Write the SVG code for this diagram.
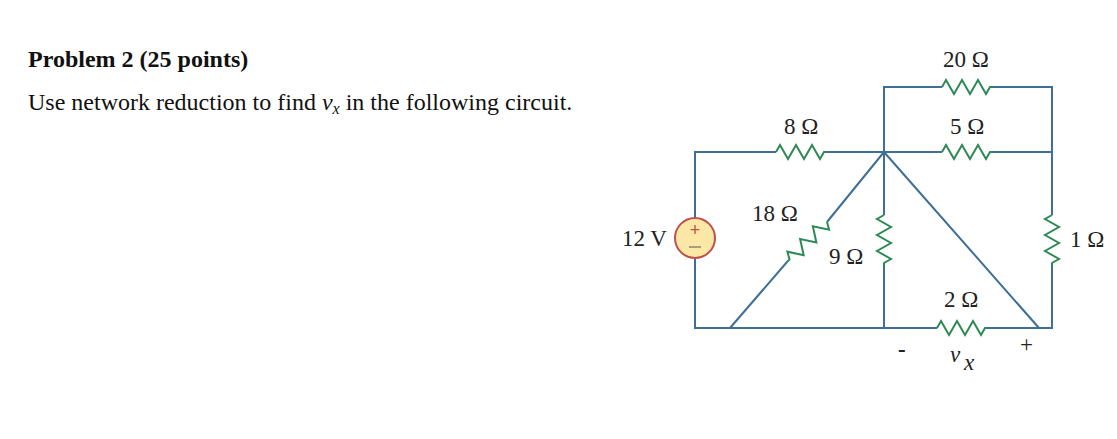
<svg xmlns="http://www.w3.org/2000/svg" width="1117" height="439" viewBox="0 0 1117 439">
<style>
.w{fill:none;stroke:#3f6f96;stroke-width:2}
.r{fill:none;stroke:#2e8a55;stroke-width:2}
.t{font-family:"Liberation Serif",serif;font-size:23px;fill:#222}
.h{font-family:"Liberation Serif",serif;font-size:24px;fill:#111}
</style>
<rect width="1117" height="439" fill="#fff"/>
<text class="h" x="28" y="67" font-weight="bold">Problem 2 (25 points)</text>
<text class="h" x="28" y="110">Use network reduction to find <tspan font-style="italic">v</tspan><tspan font-style="italic" font-size="16" dy="4">x</tspan><tspan dy="-4"> in the following circuit.</tspan></text>
<g id="connectors">
<path class="w" d="M695 218V152H776M827 152H942M993 152H1052V215M884 152V87H942M993 87H1052V152M1052 267V328H987M937 328H695V258"/>
<path class="w" d="M884 152V215M884 267V328M884 152L827 222M787 262L730 328M884 152L1039 328"/>
</g>
<g id="r8"><polyline class="r" points="776,152 780,145 788,159 796,145 804,159 812,145 820,159 824,152 827,152"/><text class="t" x="784" y="134">8 Ω</text></g>
<g id="r5"><polyline class="r" points="942,152 946,145 954,159 962,145 970,159 978,145 986,159 990,152 993,152"/><text class="t" x="950" y="134">5 Ω</text></g>
<g id="r20"><polyline class="r" points="942,87 946,80 954,94 962,80 970,94 978,80 986,94 990,87 993,87"/><text class="t" x="943" y="67">20 Ω</text></g>
<g id="r2"><polyline class="r" points="937,328 941,321 949,335 957,321 965,335 973,321 981,335 985,328 987,328"/><text class="t" x="944" y="307">2 Ω</text></g>
<g id="r9"><polyline class="r" points="884,215 877,219 891,227 877,235 891,243 877,251 891,259 884,263 884,267"/><text class="t" x="829" y="264">9 Ω</text></g>
<g id="r1"><polyline class="r" points="1052,215 1045,219 1059,227 1045,235 1059,243 1045,251 1059,259 1052,263 1052,267"/><text class="t" x="1070" y="247">1 Ω</text></g>
<g id="r18"><polyline class="r" transform="translate(827,222) rotate(135)" points="0,0 4,-7 13,7 22,-7 31,7 40,-7 49,7 53,0 57,0"/><text class="t" x="752" y="221">18 Ω</text></g>
<g id="src"><circle cx="695" cy="238" r="20" fill="#fbe8a6" stroke="#c0504d" stroke-width="2"/><text x="695" y="236" font-family="Liberation Sans,sans-serif" font-size="18" fill="#c0504d" text-anchor="middle">+</text><line x1="689" y1="247" x2="701" y2="247" stroke="#555" stroke-width="1"/><text class="t" x="622" y="246">12 V</text></g>
<g id="vx"><text class="t" x="898" y="357" font-weight="bold">-</text><text class="t" x="950" y="362" font-style="italic" font-size="28">v</text><text class="t" x="964" y="370" font-style="italic">x</text><text class="t" x="1020" y="352">+</text></g>
</svg>
